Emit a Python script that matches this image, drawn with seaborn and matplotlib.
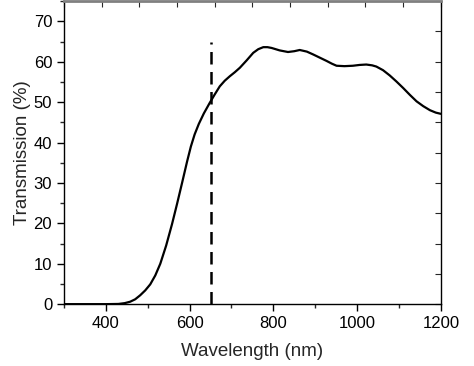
import matplotlib
matplotlib.use("Agg")
import matplotlib.pyplot as plt
import numpy as np
import pandas as pd
import seaborn as sns
from matplotlib.ticker import MultipleLocator

# 투과율 스펙트럼
wavelength = [300, 350, 400, 430, 445, 458, 470, 482, 494, 506, 518, 530, 544,
              558, 570, 582, 594, 603, 612, 622, 634, 648, 660, 672, 684, 696,
              708, 720, 736, 752, 764, 776, 786, 796, 815, 835, 850, 863, 880,
              895, 911, 927, 940, 951, 970, 990, 1006, 1022, 1036, 1046, 1062,
              1078, 1094, 1110, 1126, 1142, 1158, 1174, 1188, 1200]
transmission = [0.0, 0.0, 0.0, 0.05, 0.25, 0.6, 1.2, 2.2, 3.4, 4.9, 7.1, 10.0, 14.5,
                19.8, 24.8, 30.0, 35.3, 39.0, 42.0, 44.6, 47.2, 49.8, 51.9, 53.9, 55.3, 56.4,
                57.4, 58.5, 60.3, 62.2, 63.1, 63.6, 63.6, 63.4, 62.8, 62.4, 62.6, 62.9, 62.5,
                61.8, 61.0, 60.2, 59.5, 59.0, 58.9, 59.0, 59.2, 59.3, 59.1, 58.8, 57.9,
                56.6, 55.1, 53.5, 51.8, 50.2, 49.0, 48.0, 47.4, 47.1]

cutoff_wl = 650
cutoff_top = 65

df = pd.DataFrame({"Wavelength": wavelength, "Transmission": transmission})

sns.set_style("ticks")
plt.rcParams["font.family"] = ["Liberation Sans", "DejaVu Sans"]

fig = plt.figure(figsize=(4.74, 3.66), dpi=100)
ax = fig.add_axes([0.135, 0.169, 0.795, 0.828])

sns.lineplot(data=df, x="Wavelength", y="Transmission", color="black",
             linewidth=1.6, ax=ax)
ax.plot([cutoff_wl, cutoff_wl], [0, cutoff_top], color="black",
        linewidth=1.8, dashes=(5, 3))

ax.set_xlim(300, 1200)
ax.set_ylim(0, 75)
ax.xaxis.set_major_locator(MultipleLocator(200))
ax.xaxis.set_minor_locator(MultipleLocator(100))
ax.yaxis.set_major_locator(MultipleLocator(10))
ax.yaxis.set_minor_locator(MultipleLocator(5))
ax.tick_params(which="major", direction="out", length=5, width=1,
               labelsize=12, colors="black")
ax.tick_params(which="minor", direction="out", length=3, width=1)
ax.set_xlabel("Wavelength (nm)", fontsize=13.5, labelpad=9)
ax.set_ylabel("Transmission (%)", fontsize=13.5, labelpad=2)

for side in ["left", "bottom", "top", "right"]:
    ax.spines[side].set_visible(True)
    ax.spines[side].set_linewidth(1)
    ax.spines[side].set_color("black")
ax.spines["top"].set_color("#808080")
ax.spines["top"].set_linewidth(2)

# 위/오른쪽 보조축 눈금 (라벨 없음)
ax_top = ax.secondary_xaxis("top")
ax_top.set_xticks(np.linspace(300, 1200, 11))
ax_top.tick_params(direction="in", length=4, labeltop=False)
ax_top.spines["top"].set_visible(False)
ax_right = ax.secondary_yaxis("right")
ax_right.set_yticks(np.linspace(0, 75, 11))
ax_right.tick_params(direction="in", length=4, labelright=False)
ax_right.spines["right"].set_visible(False)

fig.savefig("out.png", dpi=100)
